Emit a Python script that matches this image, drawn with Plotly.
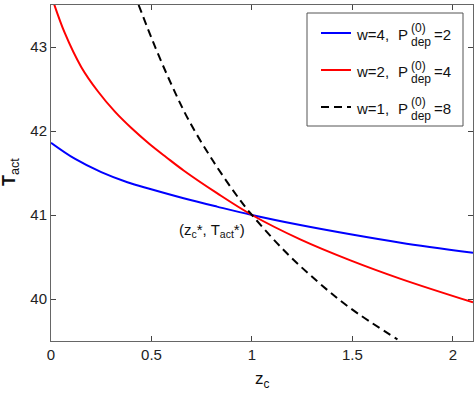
import plotly.graph_objects as go

# ---- data ----
z_blue = [0.0, 0.118, 0.25, 0.38, 0.494, 0.66, 0.826, 1.0, 1.24, 1.49, 1.74, 2.1]
T_blue = [41.86, 41.67, 41.51, 41.39, 41.31, 41.20, 41.10, 41.0, 40.88, 40.77, 40.67, 40.55]

z_red = [0.0, 0.068, 0.151, 0.234, 0.318, 0.40, 0.49, 0.575, 0.66, 0.826, 1.0, 1.24, 1.49, 1.74, 2.1]
T_red = [43.62, 43.17, 42.76, 42.47, 42.23, 42.035, 41.845, 41.685, 41.53, 41.26, 41.0, 40.71, 40.46, 40.24, 39.96]

z_black = [0.436, 0.52, 0.60, 0.685, 0.81, 0.943, 1.0, 1.159, 1.325, 1.49, 1.724]
T_black = [43.50, 42.99, 42.55, 42.13, 41.63, 41.17, 41.0, 40.58, 40.21, 39.89, 39.52]

x_ticks = [0, 0.5, 1, 1.5, 2]
x_ticklabels = ["0", "0.5", "1", "1.5", "2"]
y_ticks = [40, 41, 42, 43]
y_ticklabels = ["40", "41", "42", "43"]

legend_w = ["w=4,", "w=2,", "w=1,"]
legend_p = ["=2", "=4", "=8"]

FONT = "Liberation Sans, Arial, Helvetica, sans-serif"
W, H = 474, 395
L, R, T, B = 51, 1, 5, 54
PW, PH = W - L - R, H - T - B


def px(xp):
    return (xp - L) / PW


def py(yp):
    return (H - B - yp) / PH


fig = go.Figure()
fig.add_trace(go.Scatter(x=z_blue, y=T_blue, mode="lines",
                         line=dict(color="#0000ff", width=2, shape="spline", smoothing=1.0), showlegend=False))
fig.add_trace(go.Scatter(x=z_red, y=T_red, mode="lines",
                         line=dict(color="#ff0000", width=2, shape="spline", smoothing=1.0), showlegend=False))
fig.add_trace(go.Scatter(x=z_black, y=T_black, mode="lines",
                         line=dict(color="#000000", width=2, dash="8px,5px", shape="spline", smoothing=1.0),
                         showlegend=False))

axis_common = dict(
    showgrid=False, zeroline=False, ticks="inside", ticklen=5, tickcolor="#444",
    showline=True, linecolor="#666", linewidth=1, mirror="ticks",
    tickfont=dict(family=FONT, size=15, color="#222"),
)

fig.update_layout(
    width=W, height=H,
    margin=dict(l=L, r=R, t=T, b=B, pad=0),
    paper_bgcolor="white", plot_bgcolor="white",
    xaxis=dict(range=[0, 2.1], tickvals=x_ticks, ticktext=x_ticklabels, **axis_common),
    yaxis=dict(range=[39.5, 43.5], tickvals=y_ticks, ticktext=y_ticklabels, **axis_common),
    showlegend=False,
    hovermode=False,
)

# legend box
fig.add_shape(type="rect", xref="paper", yref="paper", x0=px(307), x1=px(463), y0=py(126), y1=py(13),
              line=dict(color="#555", width=1), fillcolor="white", layer="above")
rows = [33, 70, 107]
colors = ["#0000ff", "#ff0000", "#000000"]
dashes = ["solid", "solid", "8px,5px"]
for i, yr in enumerate(rows):
    fig.add_shape(type="line", xref="paper", yref="paper", x0=px(321), x1=px(351), y0=py(yr), y1=py(yr),
                  line=dict(color=colors[i], width=2, dash=dashes[i]), layer="above")
    fig.add_annotation(xref="paper", yref="paper", x=px(354), y=py(yr + 1.5), text=legend_w[i], showarrow=False,
                       xanchor="left", yanchor="middle", font=dict(family=FONT, size=15, color="#111"))
    fig.add_annotation(xref="paper", yref="paper", x=px(396), y=py(yr + 1.5), text="P", showarrow=False,
                       xanchor="left", yanchor="middle", font=dict(family=FONT, size=15, color="#111"))
    fig.add_annotation(xref="paper", yref="paper", x=px(409), y=py(yr - 4.5), text="(0)", showarrow=False,
                       xanchor="left", yanchor="middle", font=dict(family=FONT, size=12, color="#111"))
    fig.add_annotation(xref="paper", yref="paper", x=px(409), y=py(yr + 9), text="dep", showarrow=False,
                       xanchor="left", yanchor="middle", font=dict(family=FONT, size=12, color="#111"))
    fig.add_annotation(xref="paper", yref="paper", x=px(432), y=py(yr + 1.5), text=legend_p[i], showarrow=False,
                       xanchor="left", yanchor="middle", font=dict(family=FONT, size=15, color="#111"))

# point label
fig.add_annotation(x=0.80, y=40.81, text="(z<sub>c</sub>*, T<sub>act</sub>*)", showarrow=False,
                   xanchor="center", yanchor="middle", font=dict(family=FONT, size=15, color="#111"))

# axis titles
fig.add_annotation(xref="paper", yref="paper", x=0.5, y=py(380), text="z<sub>c</sub>", showarrow=False,
                   xanchor="center", yanchor="middle", font=dict(family=FONT, size=17, color="#111"))
fig.add_annotation(xref="paper", yref="paper", x=px(10), y=py(172), text="<b>T</b><sub>act</sub>", showarrow=False,
                   textangle=-90, xanchor="center", yanchor="middle", font=dict(family=FONT, size=18, color="#111"))

fig.write_html("out.html", config={"displayModeBar": False, "staticPlot": True},
               post_script="document.documentElement.style.margin='0';document.body.style.margin='0';"
                           "document.body.style.overflow='hidden';")
